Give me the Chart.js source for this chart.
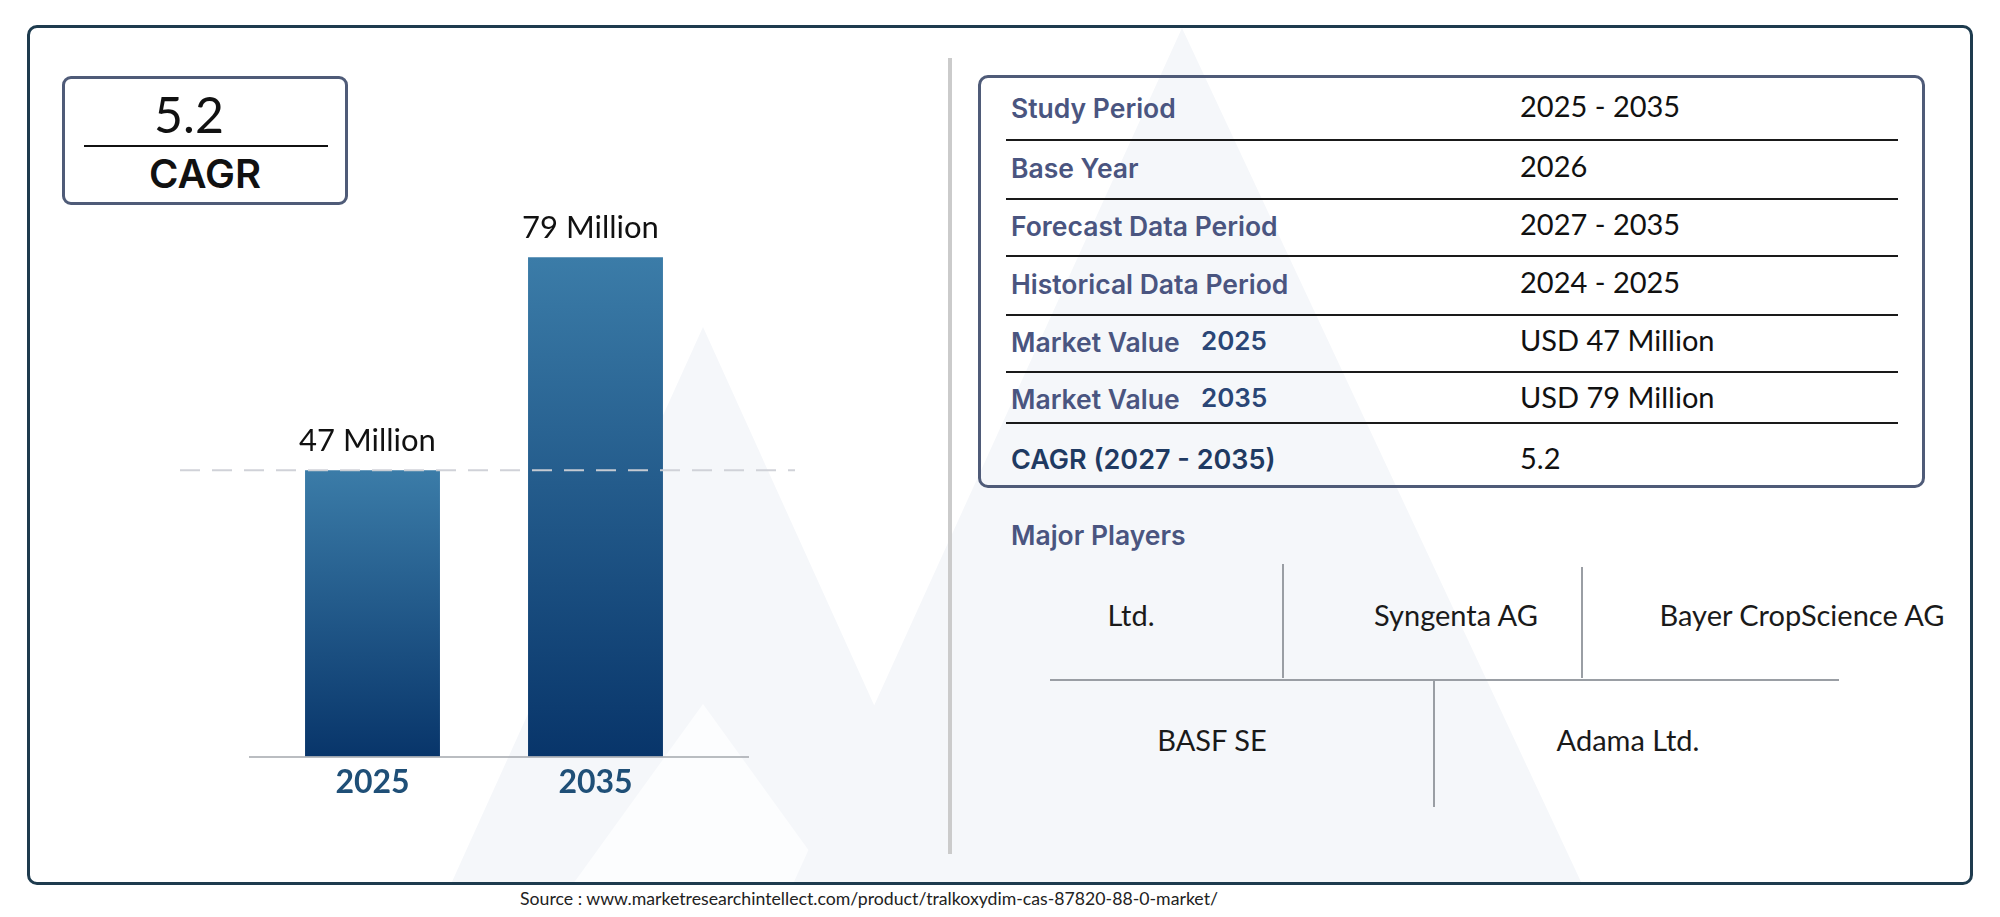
<!DOCTYPE html>
<html>
<head>
<meta charset="utf-8">
<script src="https://cdn.jsdelivr.net/npm/chart.js@4.4.0/dist/chart.umd.min.js"></script>
<style>
  html, body { margin: 0; padding: 0; background: #fff; }
  body { width: 2000px; height: 917px; position: relative; overflow: hidden; font-family: Lato, "Noto Sans", sans-serif; }
  .abs { position: absolute; }
  .frame { left: 27px; top: 25px; width: 1940px; height: 854px; border: 3px solid #1e3b4e; border-radius: 10px; }
  .cagrBox { left: 62px; top: 76px; width: 280px; height: 123px; border: 3px solid #4f5b78; border-radius: 9px; background: #fff; }
  .txt { line-height: 40px; white-space: nowrap; }
  .lbl { font-family: Inter, "Open Sans", sans-serif; font-weight: 600; font-size: 26.5px; color: #4a5580; }
  .val { font-size: 29px; color: #111; }
  .rule { height: 2px; background: #1a1a1a; }
  .thin { background: #9a9ea4; }
  .player { font-size: 29px; color: #1a1a1a; width: 400px; text-align: center; }
</style>
</head>
<body>
<svg class="abs" style="left:0;top:0" width="2000" height="917">
  <polygon points="451,884 703,327 955,884" fill="#f5f7fa"/>
  <polygon points="573,884 703,704 833,884" fill="#fcfdfe"/>
  <polygon points="793,884 1182,28 1582,884" fill="#f5f7fa"/>
</svg>
<div class="abs frame"></div>
<div class="abs" style="left:948px;top:58px;width:4px;height:796px;background:#cbcbcb"></div>

<div class="abs cagrBox"></div>
<div id="cagrTop" class="abs txt" style="left:89px;width:200px;text-align:center;top:92px;line-height:44px;font-size:50px;color:#111"></div>
<div class="abs" style="left:84px;top:145px;width:244px;height:1.5px;background:#111"></div>
<div class="abs txt" style="left:105px;width:200px;text-align:center;top:154px;font-family:Inter,sans-serif;font-weight:600;font-size:40px;color:#111">CAGR</div>

<canvas id="chart" class="abs" style="left:150px;top:150px" width="700" height="680"></canvas>

<div class="abs" style="left:978px;top:75px;width:941px;height:407px;border:3px solid #4f5b78;border-radius:10px"></div>
<div id="table"></div>

<div class="abs txt lbl" style="left:1011px;top:515px">Major Players</div>
<div id="players"></div>

<div id="source" class="abs txt" style="left:520px;top:884px;line-height:30px;font-size:17.7px;color:#222"></div>

<script>
// chart values
const years = ['2025', '2035'];
const marketValues = [47, 79];
const unit = 'Million';
const cagr = '5.2';

// summary table
const rowLabels = ['Study Period', 'Base Year', 'Forecast Data Period', 'Historical Data Period', 'Market Value', 'Market Value', 'CAGR (2027 - 2035)'];
const rowYears = ['', '', '', '', '2025', '2035', ''];
const rowValues = ['2025 - 2035', '2026', '2027 - 2035', '2024 - 2025', 'USD 47 Million', 'USD 79 Million', '5.2'];
const players = ['Ltd.', 'Syngenta AG', 'Bayer CropScience AG', 'BASF SE', 'Adama Ltd.'];
const sourceText = 'Source : www.marketresearchintellect.com/product/tralkoxydim-cas-87820-88-0-market/';

document.getElementById('cagrTop').textContent = cagr;
document.getElementById('source').textContent = sourceText;

// table rows
const rowY = [108, 168, 226, 284, 342, 399, 460];
const lineY = [140, 199, 256, 315, 372, 423];
let html = '';
rowLabels.forEach((l, i) => {
    const top = rowY[i] - 20;
    if (i === rowLabels.length - 1) {
        html += `<div class="abs txt" style="left:1011px;top:${top}px;font-family:Inter,sans-serif;font-weight:600;font-size:27px;color:#1f3a62">${l}</div>`;
    } else {
        html += `<div class="abs txt lbl" style="left:1011px;top:${top}px">${l}</div>`;
    }
    if (rowYears[i]) {
        html += `<div class="abs txt" style="left:1201px;top:${top - 1}px;font-family:Inter,sans-serif;font-weight:600;font-size:26px;color:#2a4676">${rowYears[i]}</div>`;
    }
    html += `<div class="abs txt val" style="left:1520px;top:${top - 2}px">${rowValues[i]}</div>`;
});
lineY.forEach(y => {
    html += `<div class="abs rule" style="left:1006px;top:${y - 1}px;width:892px"></div>`;
});
document.getElementById('table').innerHTML = html;

// players grid
const playerPos = [[1131, 615], [1456, 615], [1802, 615], [1212, 740], [1628, 740]];
let ph = '';
players.forEach((p, i) => {
    ph += `<div class="abs txt player" style="left:${playerPos[i][0] - 200}px;top:${playerPos[i][1] - 20}px">${p}</div>`;
});
ph += '<div class="abs thin" style="left:1282px;top:564px;width:1.5px;height:114px"></div>';
ph += '<div class="abs thin" style="left:1581px;top:567px;width:1.5px;height:111px"></div>';
ph += '<div class="abs thin" style="left:1050px;top:679px;width:789px;height:1.5px"></div>';
ph += '<div class="abs thin" style="left:1433px;top:680px;width:1.5px;height:127px"></div>';
document.getElementById('players').innerHTML = ph;

// bar labels, guide line and base line
const extras = {
    id: 'extras',
    afterDatasetsDraw(chart) {
        const ctx = chart.ctx;
        const area = chart.chartArea;
        const y = chart.scales.y;
        ctx.save();
        // dashed guide at first year value
        const gy = y.getPixelForValue(marketValues[0]);
        ctx.strokeStyle = 'rgba(205,208,214,0.95)';
        ctx.lineWidth = 2;
        ctx.setLineDash([20, 12]);
        ctx.beginPath();
        ctx.moveTo(area.left - 81, gy);
        ctx.lineTo(area.right + 88, gy);
        ctx.stroke();
        ctx.setLineDash([]);
        // base line
        ctx.strokeStyle = '#a3a7ad';
        ctx.lineWidth = 1.5;
        ctx.beginPath();
        ctx.moveTo(area.left - 12, area.bottom + 0.5);
        ctx.lineTo(area.right + 42, area.bottom + 0.5);
        ctx.stroke();
        // value labels
        ctx.fillStyle = '#111';
        ctx.font = '31px Lato';
        ctx.textAlign = 'center';
        ctx.textBaseline = 'middle';
        chart.getDatasetMeta(0).data.forEach((bar, i) => {
            ctx.fillText(marketValues[i] + ' ' + unit, bar.x - 5, bar.y - 29);
        });
        ctx.restore();
    }
};

new Chart(document.getElementById('chart').getContext('2d'), {
    type: 'bar',
    data: {
        labels: years,
        datasets: [{
            data: marketValues,
            backgroundColor: (c) => {
                const chart = c.chart;
                const area = chart.chartArea;
                if (!area || c.raw === undefined) return '#1d5a8c';
                const top = chart.scales.y.getPixelForValue(c.raw);
                const g = chart.ctx.createLinearGradient(0, top, 0, area.bottom);
                g.addColorStop(0, '#3b7ca8');
                g.addColorStop(1, '#08356a');
                return g;
            },
            borderWidth: 0,
            categoryPercentage: 1,
            barPercentage: 0.605
        }]
    },
    options: {
        responsive: false,
        animation: false,
        layout: { padding: { left: 111, right: 143, top: 34, bottom: 21 } },
        plugins: { legend: { display: false }, tooltip: { enabled: false } },
        scales: {
            x: {
                grid: { display: false, drawTicks: false },
                border: { display: false },
                ticks: { color: '#1f4f77', padding: 7, font: { family: 'Lato', weight: 'bold', size: 32 } }
            },
            y: { display: false, min: 4, max: 90 }
        }
    },
    plugins: [extras]
});
</script>
</body>
</html>
